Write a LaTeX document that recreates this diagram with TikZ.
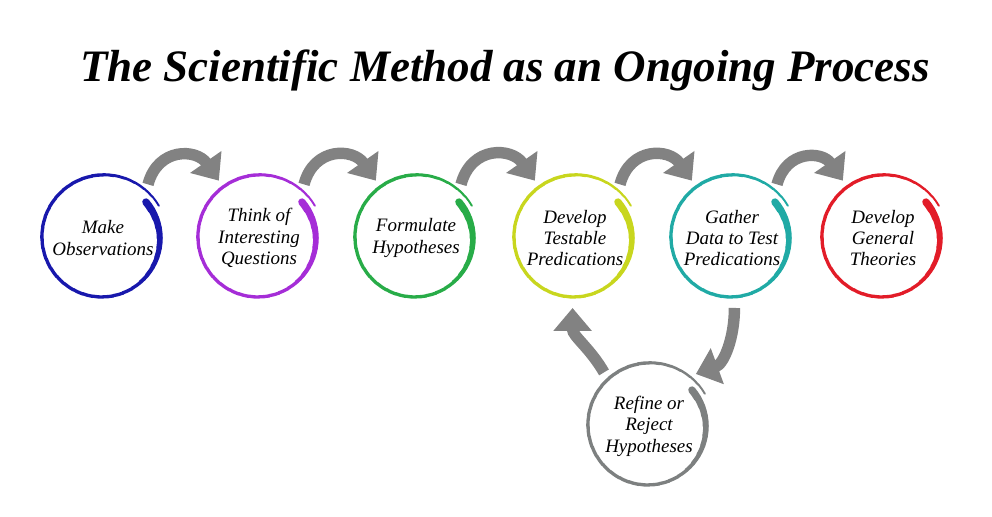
\documentclass[tikz,border=0pt]{standalone}
\usepackage{fontspec}
\setmainfont{Liberation Serif}
\usepackage{xcolor}
\usepackage{tikz}
\usetikzlibrary{arrows.meta}

\definecolor{obsblue}{RGB}{24,24,172}
\definecolor{qstpurple}{RGB}{165,45,215}
\definecolor{hypgreen}{RGB}{40,172,72}
\definecolor{predyellow}{RGB}{200,214,30}
\definecolor{datateal}{RGB}{32,170,165}
\definecolor{theored}{RGB}{226,28,40}
\definecolor{refgray}{RGB}{125,128,128}
\definecolor{flowgray}{RGB}{130,130,130}

\tikzset{every node/.append style={font=\fontsize{10.8}{12.2}\selectfont\itshape}}
\tikzset{
  stage/.style={circle, minimum size=2.4cm, outer sep=0.2cm, inner sep=0pt, align=center},
  flow/.style={draw=flowgray, line width=6.5pt, -{Triangle[width=21pt,length=13pt]}}
}

% brush ring round a stage node: #1 node, #2 colour
\newcommand{\brushring}[2]{%
  \begin{scope}[shift={(#1.center)}]
    \foreach \i in {0,...,36}{
      \draw[#2, line cap=round, line width={1.9pt+2.3pt*max(0,1-\i/9)-0.8pt*max(0,(\i-30)/6)}]
        ({40-10*\i}:{1.12+0.17*\i/36}) arc[start angle={40-10*\i}, end angle={30-10*\i}, radius={1.12+0.17*\i/36}];
    }
  \end{scope}}

\begin{document}
\begin{tikzpicture}[>=stealth]
    \useasboundingbox (0,0) rectangle (19.84,10.32);
    \node[font=\fontsize{25.6}{30}\selectfont\bfseries\itshape] (title) at (10.1,8.92) {The Scientific Method as an Ongoing Process};

    \node[stage] (obs) at (2.06,5.56) {Make\\Observations};
    \node[stage] (qst) at (5.18,5.56) {Think of\\Interesting\\Questions};
    \node[stage] (hyp) at (8.32,5.56) {Formulate\\Hypotheses};
    \node[stage] (testable) at (11.50,5.56) {Develop\\Testable\\Predications};
    \node[stage] (gather) at (14.64,5.56) {Gather\\Data to Test\\Predications};
    \node[stage] (theory) at (17.66,5.56) {Develop\\General\\Theories};
    \node[stage] (refine) at (12.98,1.80) {Refine or\\Reject\\Hypotheses};

    \brushring{obs}{obsblue}
    \brushring{qst}{qstpurple}
    \brushring{hyp}{hypgreen}
    \brushring{testable}{predyellow}
    \brushring{gather}{datateal}
    \brushring{theory}{theored}
    \brushring{refine}{refgray}

    \draw[flow] (obs.50) to[out=75, in=125, looseness=1.4] (qst.125);
    \draw[flow] (qst.50) to[out=75, in=125, looseness=1.4] (hyp.125);
    \draw[flow] (hyp.50) to[out=75, in=125, looseness=1.4] (testable.125);
    \draw[flow] (testable.50) to[out=75, in=125, looseness=1.4] (gather.125);
    \draw[flow] (gather.50) to[out=75, in=125, looseness=1.4] (theory.125);

    \draw[flow] (gather.-88) to[out=-90, in=20] (refine.48);
    \draw[flow] (refine.130) to[out=120, in=-90] (testable.-92);
\end{tikzpicture}
\end{document}
